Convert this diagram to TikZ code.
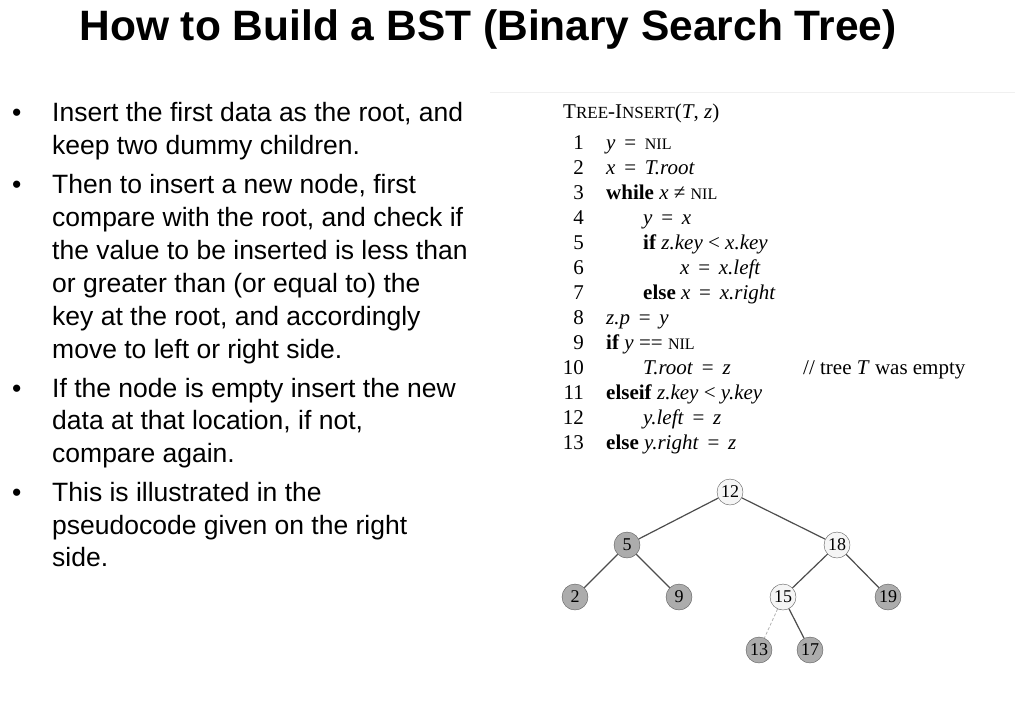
\documentclass[tikz,border=0pt]{standalone}
\usepackage{fontspec}
\setmainfont{Liberation Sans}
\newfontfamily\codefont{Liberation Serif}
\newcommand{\nil}{{\fontsize{16}{18}\selectfont NIL}}
\newcommand{\eqq}{\ \,=\ \,}
\begin{document}
\begin{tikzpicture}[x=1pt,y=-1pt,
  btxt/.style={anchor=base west,inner sep=0,font=\fontsize{26.5}{30}\selectfont},
  ctxt/.style={anchor=base west,inner sep=0,font=\codefont\fontsize{21}{24}\selectfont},
  cnum/.style={anchor=base east,inner sep=0,font=\codefont\fontsize{21}{24}\selectfont},
  dk/.style={circle,draw=gray!70!black,fill=gray!65,minimum size=26,inner sep=0,font=\codefont\fontsize{18}{19}\selectfont},
  lt/.style={circle,draw=gray!70!black,fill=gray!8,minimum size=26,inner sep=0,font=\codefont\fontsize{18}{19}\selectfont},
  edge/.style={draw=gray!60!black,line width=1.2pt}]
\useasboundingbox (0,0) rectangle (1015,713);
\node[inner sep=0,font=\bfseries\fontsize{42.5}{48}\selectfont] (title) at (488,30) {How to Build a BST (Binary Search Tree)};
\draw[gray!12,line width=1pt] (490,92) -- (1015,92);
% bullets
\foreach \y in {121,193,397,501} \node[btxt] at (12,\y) {\textbullet};
\node[btxt] (b1) at (52,121) {Insert the first data as the root, and};
\node[btxt] at (52,154) {keep two dummy children.};
\node[btxt] (b2) at (52,193) {Then to insert a new node, first};
\node[btxt] at (52,226) {compare with the root, and check if};
\node[btxt] at (52,259) {the value to be inserted is less than};
\node[btxt] at (52,292) {or greater than (or equal to) the};
\node[btxt] at (52,325) {key at the root, and accordingly};
\node[btxt] at (52,358) {move to left or right side.};
\node[btxt] (b3) at (52,397) {If the node is empty insert the new};
\node[btxt] at (52,429) {data at that location, if not,};
\node[btxt] at (52,462) {compare again.};
\node[btxt] (b4) at (52,501) {This is illustrated in the};
\node[btxt] at (52,534) {pseudocode given on the right};
\node[btxt] at (52,566) {side.};
% code
\node[ctxt] (ct) at (563,118) {T{\fontsize{17}{18}\selectfont REE}-I{\fontsize{17}{18}\selectfont NSERT}(\textit{T}, \textit{z})};
\foreach \n/\y in {1/149,2/174,3/199,4/224,5/249,6/274,7/299,8/324,9/349,10/374,11/399,12/424,13/449}
  \node[cnum] at (584,\y) {\n};
\node[ctxt] at (606,149) {\textit{y}\eqq\nil};
\node[ctxt] at (606,174) {\textit{x}\eqq\textit{T.root}};
\node[ctxt] at (606,199) {\textbf{while} \textit{x} ≠ \nil};
\node[ctxt] at (643,224) {\textit{y}\eqq\textit{x}};
\node[ctxt] at (643,249) {\textbf{if} \textit{z.key} < \textit{x.key}};
\node[ctxt] at (680,274) {\textit{x}\eqq\textit{x.left}};
\node[ctxt] at (643,299) {\textbf{else} \textit{x}\eqq\textit{x.right}};
\node[ctxt] at (606,324) {\textit{z.p}\eqq\textit{y}};
\node[ctxt] at (606,349) {\textbf{if} \textit{y} == \nil};
\node[ctxt] at (643,374) {\textit{T.root}\eqq\textit{z}};
\node[ctxt] at (803,374) {// tree \textit{T} was empty};
\node[ctxt] at (606,399) {\textbf{elseif} \textit{z.key} < \textit{y.key}};
\node[ctxt] at (643,424) {\textit{y.left}\eqq\textit{z}};
\node[ctxt] at (606,449) {\textbf{else} \textit{y.right}\eqq\textit{z}};
% tree
\node[lt] (n12) at (730,492) {12};
\node[dk] (n5) at (627,545) {5};
\node[lt] (n18) at (837,545) {18};
\node[dk] (n2) at (575,597) {2};
\node[dk] (n9) at (679,597) {9};
\node[lt] (n15) at (783,597) {15};
\node[dk] (n19) at (888,597) {19};
\node[dk] (n13) at (759,650) {13};
\node[dk] (n17) at (810,650) {17};
\draw[edge] (n12)--(n5); \draw[edge] (n12)--(n18);
\draw[edge] (n5)--(n2); \draw[edge] (n5)--(n9);
\draw[edge] (n18)--(n15); \draw[edge] (n18)--(n19);
\draw[edge] (n15)--(n17);
\draw[edge,densely dashed,draw=gray!60,line width=0.8pt] (n15)--(n13);
\end{tikzpicture}
\end{document}
